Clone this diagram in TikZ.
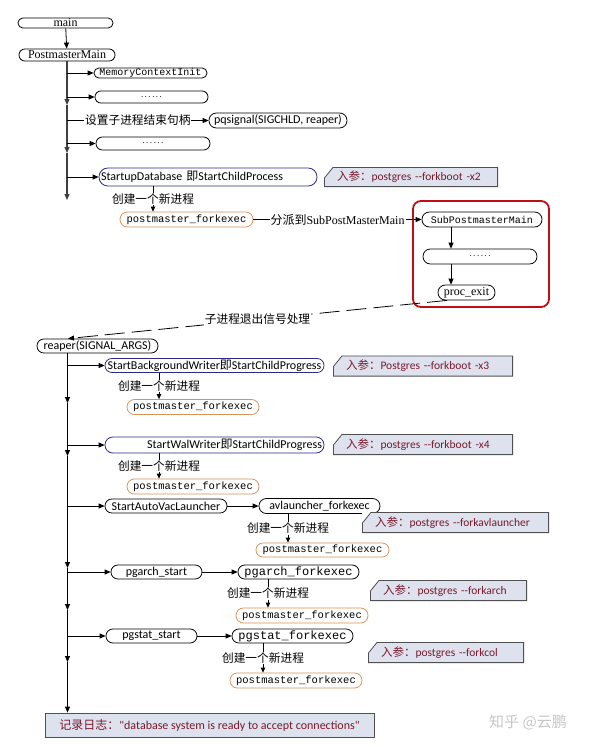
\documentclass[tikz,border=0pt]{standalone}
\usepackage{fontspec}
\setmainfont{Liberation Serif}
\setsansfont{Carlito}[Ligatures=TeXOff]
\setmonofont{Liberation Mono}
\newfontfamily\cjk{Noto Sans CJK SC}
\usetikzlibrary{arrows.meta}

\definecolor{bluebd}{HTML}{2A2A8C}
\definecolor{orangebd}{HTML}{D8935C}
\definecolor{redbd}{HTML}{C00E16}
\definecolor{notebg}{HTML}{DDE2EE}
\definecolor{notebd}{HTML}{505050}
\definecolor{notetxt}{HTML}{7A1A2A}

\newcommand\zh[1]{{\cjk #1}}
\newcommand\sixdots{{\rmfamily\fontsize{9}{9}\selectfont .\kern1.5pt.\kern1.5pt.\kern1.5pt.\kern1.5pt.\kern1.5pt.}}

\begin{document}
\begin{tikzpicture}[x=1pt, y=-1pt,
    pill/.style={draw, rectangle, line width=0.8pt, inner xsep=2pt, inner ysep=0pt,
      minimum height=#1, rounded corners=0.49*#1},
    pill/.default=15pt,
    bpill/.style={pill=#1, draw=bluebd},
    bpill/.default=15pt,
    opill/.style={pill=#1, draw=orangebd},
    opill/.default=15pt,
    rmtext/.style={font=\rmfamily\fontsize{12}{12}\selectfont},
    sftext/.style={font=\sffamily\fontsize{12}{12}\selectfont},
    mono/.style={font=\ttfamily\fontsize{#1}{#1}\selectfont},
    note/.style={rectangle, fill=white, minimum height=21pt, inner xsep=13pt, inner ysep=0pt,
      align=left, text=notetxt, font=\sffamily\fontsize{11.5}{12}\selectfont,
      path picture={
        \draw[draw=notebd, fill=notebg, line width=0.8pt]
          ([shift={(0.4pt,-11pt)}]path picture bounding box.north west)
          -- ([shift={(9pt,-0.4pt)}]path picture bounding box.north west)
          -- ([shift={(-0.4pt,-0.4pt)}]path picture bounding box.north east)
          -- ([shift={(-0.4pt,0.4pt)}]path picture bounding box.south east)
          -- ([shift={(0.4pt,0.4pt)}]path picture bounding box.south west) -- cycle;}},
    logbox/.style={rectangle, draw=notebd, fill=notebg, line width=0.8pt,
      minimum width=329pt, minimum height=24pt, text=notetxt,
      font=\sffamily\fontsize{12}{12}\selectfont},
    lbl/.style={fill=white, inner sep=1pt, font=\cjk\fontsize{11.7}{12}\selectfont},
    arr/.style={-{Triangle[length=6pt,width=5pt]}, line width=0.8pt},
    sarr/.style={-{Triangle[length=5pt,width=4.5pt]}, line width=0.8pt}]

  \useasboundingbox (0,0) rectangle (591,747);
  \fill[white] (0,0) rectangle (591,747);

  %% postmaster start
  \node[pill=10pt, rmtext, minimum width=95pt] (main) at (65.5,23) {main};
  \node[pill=12pt, rmtext, minimum width=96pt] (PM) at (67,55) {PostmasterMain};
  \draw[arr] (main) -- (PM);

  \coordinate (v1) at (67,105);
  \coordinate (v2) at (67,153);
  \coordinate (v3) at (67,200);
  \draw[arr, line width=1.2pt, draw=black!75] (PM.south) -- (v1);
  \draw[arr, line width=1.2pt, draw=black!75] (v1) -- (v2);
  \draw[arr, line width=1.2pt, draw=black!75] (v2) -- (v3);

  \node[pill=10pt, mono=10, minimum width=113pt] (MCI) at (150.5,73) {MemoryContextInit};
  \node[pill=12pt, minimum width=113pt] (D1) at (151.5,97) {\sixdots};
  \node[pill=15pt, sftext, minimum width=138pt] (PQ) at (278,120.5) {pqsignal(SIGCHLD, reaper)};
  \node[pill=13pt, minimum width=114pt] (D2) at (153,143.5) {\sixdots};
  \node[bpill=18pt, sftext, text width=214pt, align=left] (SD) at (208,177) {StartupDatabase \zh{即}StartChildProcess};
  \node[note, text width=148pt, minimum height=20pt] (N1) at (411,177) {\zh{入参：}postgres~--forkboot~-x2};

  \foreach \n in {MCI, D1, D2, SD}
    \draw[arr] (\n.west -| PM.south) -- (\n.west);
  \draw[arr] (PQ.west -| PM.south) -- node[lbl]{设置子进程结束句柄} (PQ.west);

  \node[opill, mono=10.5, minimum width=133pt] (PF1) at (186.5,219.5) {postmaster\_forkexec};
  \node[pill, mono=10, minimum width=120pt] (SPM) at (482,219.5) {SubPostmasterMain};
  \draw[arr] (PF1) -- node[lbl, rmtext]{\zh{分派到}SubPostMasterMain} (SPM);

  %% child process
  \node[draw=redbd, line width=1.8pt, rounded corners=8pt, minimum width=136pt, minimum height=106pt] (SUB) at (481,254) {};
  \node[pill, minimum width=114pt] (D3) at (480,256.5) {\sixdots};
  \node[pill, rmtext, minimum width=57pt] (PE) at (466.5,292.5) {proc\_exit};
  \coordinate (s1) at (451,0);
  \draw[arr] (SPM.south -| s1) -- (D3.north -| s1);
  \draw[arr] (D3.south -| s1) -- (PE.north -| s1);

  %% reaper
  \node[pill=14pt, sftext, minimum width=121pt] (RP) at (97.5,346) {reaper(SIGNAL\_ARGS)};
  \draw[arr, dash pattern=on 20pt off 7pt] ([xshift=-19.5pt]PE.south) -- node[lbl]{子进程退出信号处理} ([xshift=-29.5pt]RP.north);

  \node[bpill=14pt, sftext, minimum width=219pt] (BW) at (214.5,365.5) {StartBackgroundWriter\zh{即}StartChildProgress};
  \node[note, text width=154pt] (N2) at (423,366) {\zh{入参：}Postgres~--forkboot~-x3};
  \node[opill, mono=10.5, minimum width=132pt] (PF2) at (193,407) {postmaster\_forkexec};

  \node[bpill=16pt, sftext, text width=215pt, align=right] (WW) at (214.5,445) {StartWalWriter\zh{即}StartChildProgress};
  \node[note, text width=154pt] (N3) at (423,444.5) {\zh{入参：}postgres~--forkboot~-x4};
  \node[opill, mono=10.5, minimum width=132pt] (PF3) at (193,486.5) {postmaster\_forkexec};

  \node[pill=14pt, sftext, minimum width=122pt] (AV) at (166,506) {StartAutoVacLauncher};
  \node[pill, sftext, minimum width=121pt] (AVF) at (319.5,506) {avlauncher\_forkexec};
  \node[note, text width=161pt] (N4) at (455.5,522.5) {\zh{入参：}postgres~--forkavlauncher};
  \node[opill=14pt, mono=10.5, minimum width=133pt] (PF4) at (322.5,550) {postmaster\_forkexec};

  \node[pill=14pt, sftext, minimum width=91pt] (PA) at (156.5,572) {pgarch\_start};
  \node[pill=14pt, mono=12, minimum width=121pt] (PAF) at (298.5,572) {pgarch\_forkexec};
  \node[note, text width=131pt] (N5) at (448.5,590.5) {\zh{入参：}postgres~--forkarch};
  \node[opill, mono=10.5, minimum width=132pt] (PF5) at (302,615.5) {postmaster\_forkexec};

  \node[pill=14pt, sftext, minimum width=91pt] (PS) at (151.5,636) {pgstat\_start};
  \node[pill=14pt, mono=12, minimum width=121pt] (PSF) at (292.5,636) {pgstat\_forkexec};
  \node[note, text width=130pt] (N6) at (446,652.5) {\zh{入参：}postgres~--forkcol};
  \node[opill, mono=10.5, minimum width=132pt] (PF6) at (296,680.5) {postmaster\_forkexec};

  \node[logbox] (LOG) at (209.5,725) {\zh{记录日志：}"database system is ready to accept connections"};

  %% reaper line
  \coordinate (rl) at (67.5,0);
  \coordinate (r1) at (67.5,403);
  \coordinate (r2) at (67.5,456);
  \coordinate (r3) at (67.5,568);
  \coordinate (r4) at (67.5,610);
  \coordinate (r5) at (67.5,662);
  \draw[arr] (RP.south -| rl) -- (r1);
  \foreach \a/\b in {r1/r2, r2/r3, r3/r4, r4/r5}
    \draw[arr] (\a) -- (\b);
  \draw[arr] (r5) -- (LOG.north -| rl);

  \foreach \n in {BW, WW, AV, PA, PS}
    \draw[arr] (\n.west -| rl) -- (\n.west);
  \draw[arr] (AV) -- (AVF);
  \draw[arr] (PA) -- (PAF);
  \draw[arr] (PS) -- (PSF);

  %% fork ticks
  \coordinate (t1) at (153,0);
  \coordinate (t2) at (159,0);
  \coordinate (t3) at (288,0);
  \coordinate (t4) at (268,0);
  \coordinate (t5) at (263,0);
  \foreach \a/\b/\t in {SD/PF1/t1, BW/PF2/t2, WW/PF3/t2, AVF/PF4/t3, PAF/PF5/t4, PSF/PF6/t5}
    \draw[sarr] (\a.south -| \t) -- node[lbl]{创建一个新进程} (\b.north -| \t);

  \node[text=black!22, font=\cjk\fontsize{15}{15}\selectfont] (wm) at (528,722) {知乎 @云鹏};
\end{tikzpicture}
\end{document}
